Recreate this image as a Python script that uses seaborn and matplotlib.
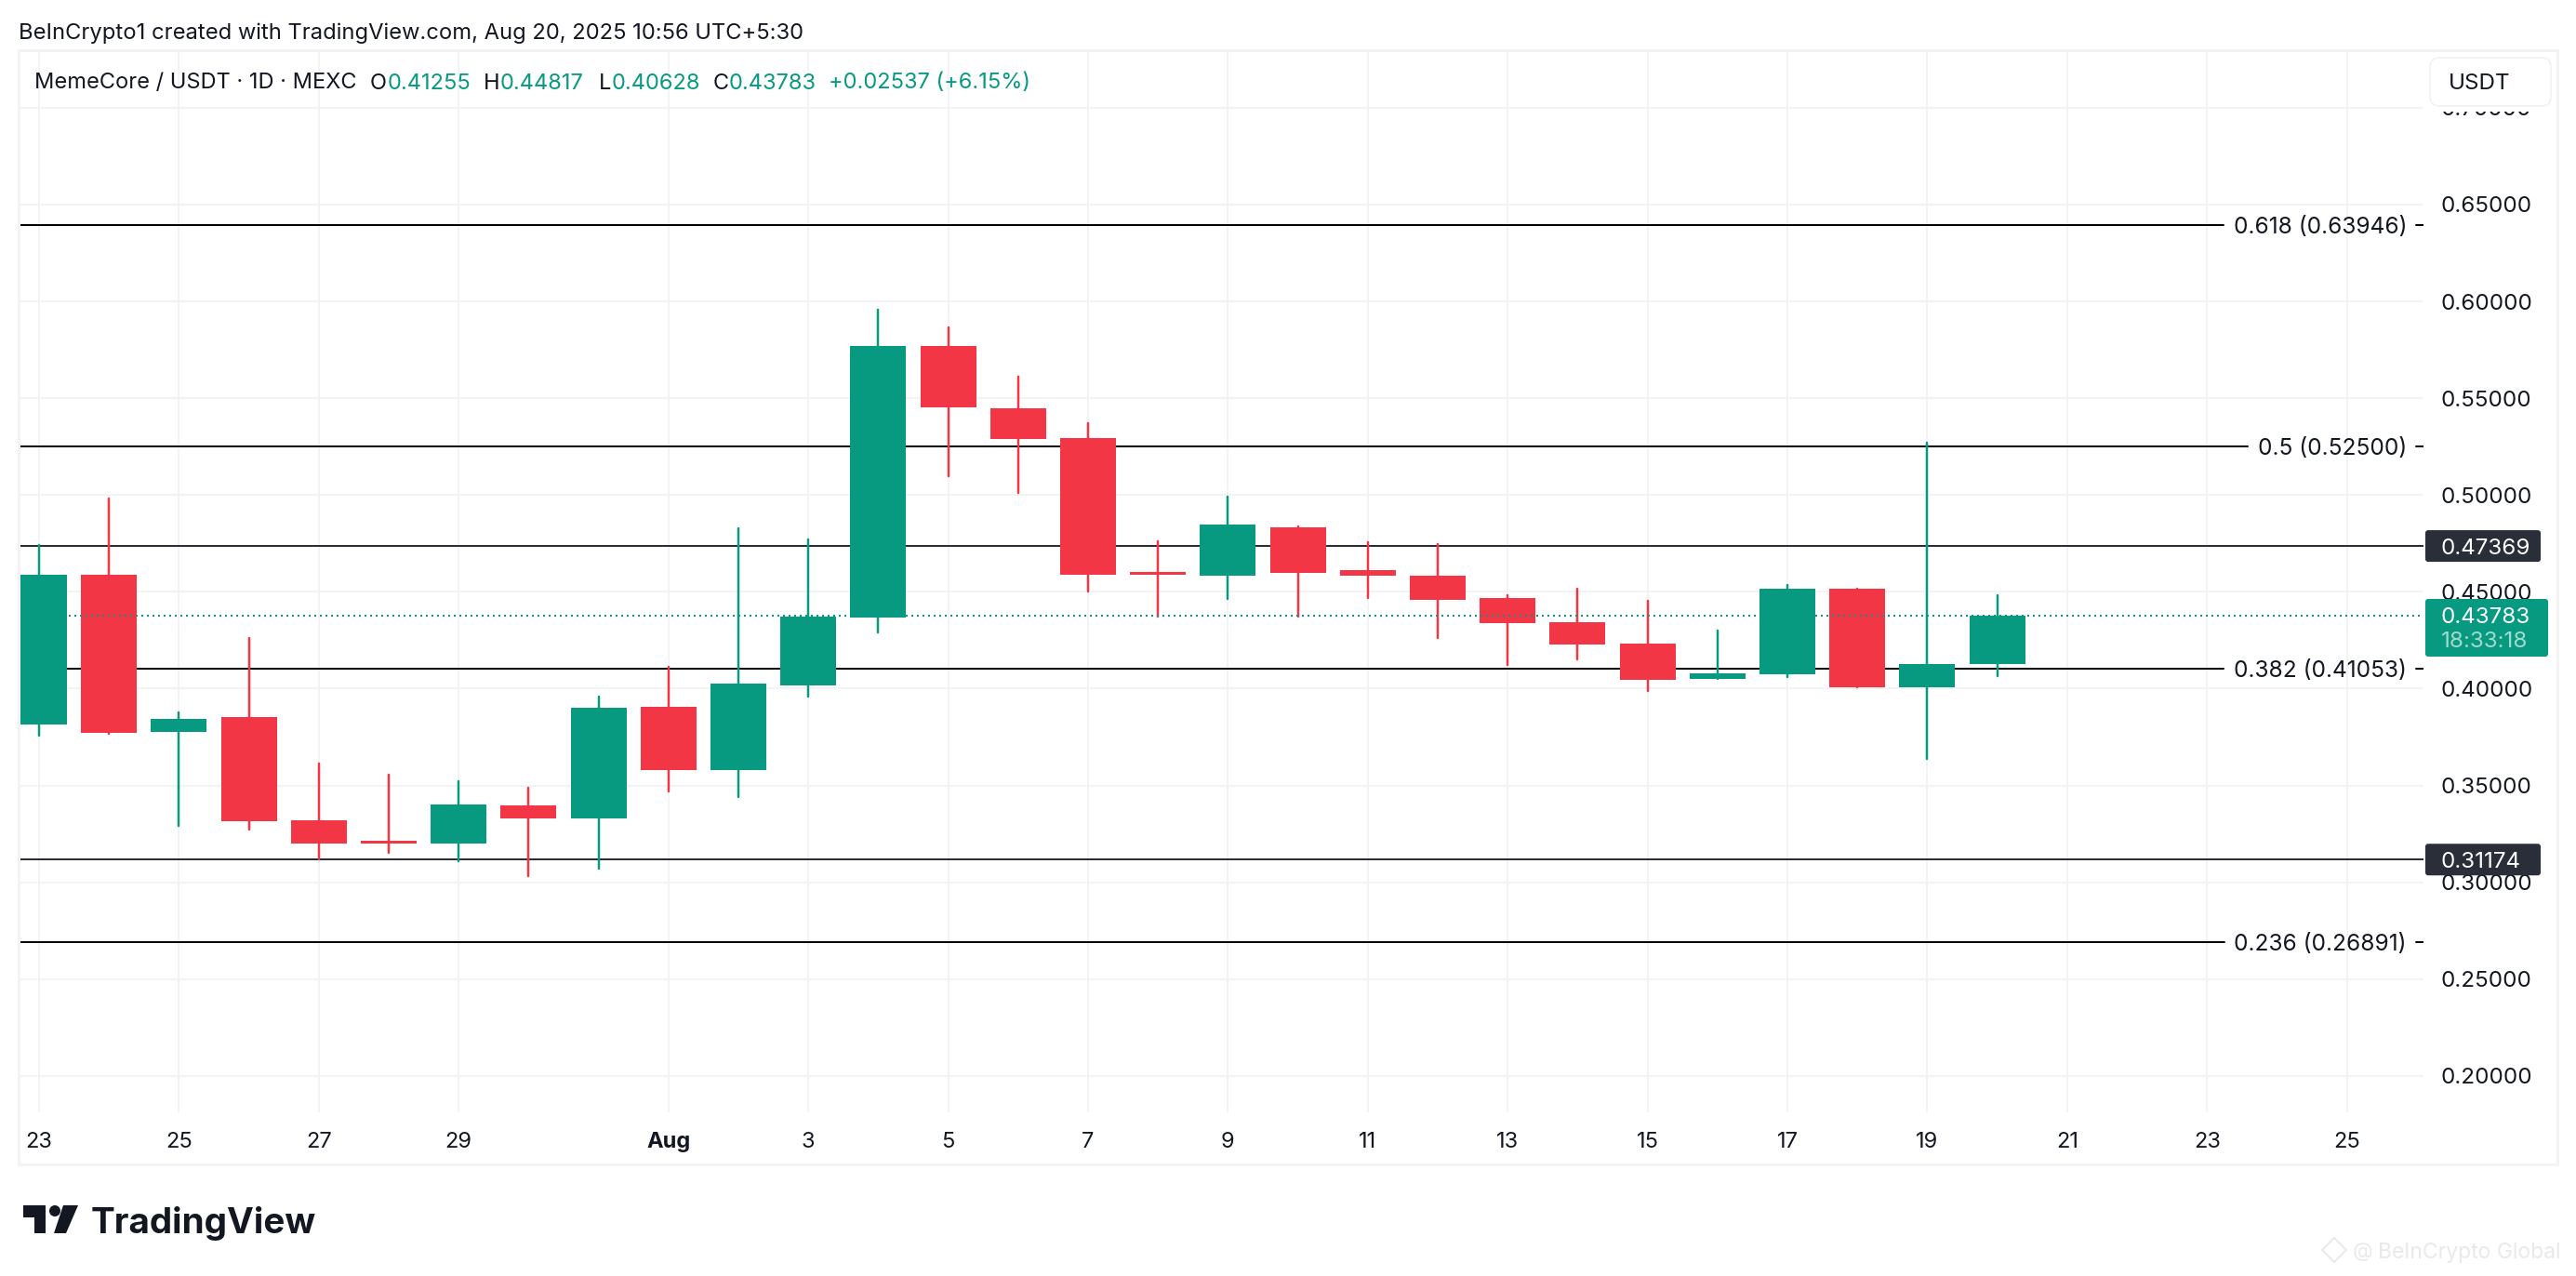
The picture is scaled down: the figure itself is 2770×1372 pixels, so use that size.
import pandas as pd
import seaborn as sns
import matplotlib.pyplot as plt
from matplotlib.patches import Rectangle, FancyBboxPatch, Polygon, Circle

# day index 0 = Jul 23
days = list(range(29))
opens = [.38165, .45884, .37766, .38535, .33204, .32099, .32003, .33972, .33300, .39063,
         .35797, .40168, .43674, .57699, .54481, .52944, .45980, .45836, .48333, .46124,
         .45836, .44683, .43434, .42329, .40504, .40744, .45163, .40072, .41255]
highs = [.47420, .49822, .38775, .42618, .36133, .35557, .35221, .34885, .39592, .41129,
         .48285, .47709, .59572, .58660, .56114, .53713, .47613, .49918, .48381, .47565,
         .47469, .44827, .45163, .44539, .43002, .45355, .45163, .52704, .44817]
lows = [.37574, .37670, .32915, .32723, .31186, .31522, .31090, .30322, .30706, .34692,
        .34404, .39592, .42906, .50975, .50110, .45019, .43722, .44635, .43722, .44683,
        .42618, .41225, .41513, .39880, .40504, .40600, .40072, .36374, .40628]
closes = [.45884, .37718, .38439, .33155, .32003, .32003, .34020, .33300, .39015, .35797,
          .40264, .43722, .57699, .54529, .52896, .45884, .45884, .48477, .45980, .45836,
          .44587, .43386, .42281, .40456, .40792, .45163, .40072, .41273, .43783]

tick_days = [0, 2, 4, 6, 9, 11, 13, 15, 17, 19, 21, 23, 25, 27, 29, 31, 33]
tick_labels = ['23', '25', '27', '29', 'Aug', '3', '5', '7', '9', '11', '13', '15', '17', '19', '21', '23', '25']
price_ticks = [.20, .25, .30, .35, .40, .45, .50, .55, .60, .65, .70]

fib_levels = [.63946, .52500, .41053, .26891]
fib_names = ['0.618 (0.63946)', '0.5 (0.52500)', '0.382 (0.41053)', '0.236 (0.26891)']
sr_levels = [.47369, .31174]
last_price = .43783

GREEN = '#089981'
RED = '#F23645'
DARK = '#2A2E39'
GRID = '#F3F3F4'
TEXT = '#131722'
MARK = '#E9E9E9'

W, H = 2770, 1372
PX = 72 / 100  # points per pixel at dpi 100

sns.set_theme(style='white')
plt.rcParams['font.family'] = ['Inter', 'DejaVu Sans']

fig = plt.figure(figsize=(W / 100, H / 100), dpi=100, facecolor='white')
ax = fig.add_axes([20 / W, 1 - 1196 / H, (2606 - 20) / W, (1196 - 54) / H])


def price_y(p):
    return 220 + (0.65 - p) * 2082


def px_day(x):
    return (x - 42) / 75.2


df = pd.DataFrame({'day': days, 'open': opens, 'high': highs, 'low': lows, 'close': closes})
df['top'] = df[['open', 'close']].max(axis=1)
df['bottom'] = df[['open', 'close']].min(axis=1)
df['body'] = (df['top'] - df['bottom']).clip(lower=0.0012)
df['up'] = df['close'] > df['open']

# wicks
wicks = df.melt(id_vars=['day', 'up'], value_vars=['high', 'low'], value_name='price')
sns.lineplot(data=wicks, x='day', y='price', units='day', estimator=None, hue='up',
             palette={True: GREEN, False: RED}, linewidth=2.5 * PX, legend=False, ax=ax, zorder=4)

# bodies
for is_up, color in [(True, GREEN), (False, RED)]:
    sub = df[df['up'] == is_up]
    sns.barplot(data=sub, x='day', y='body', bottom=sub['bottom'].values, native_scale=True,
                color=color, width=0.8, errorbar=None, saturation=1, linewidth=0, ax=ax, zorder=5)

# levels, broken where the name sits
for level, name in zip(fib_levels, fib_names):
    label = ax.annotate(name, xy=(2588 / W, 1 - price_y(level) / H), xycoords='figure fraction',
                        ha='right', va='center_baseline', fontsize=17.6, color=TEXT, zorder=6)
    fig.canvas.draw()
    left_px = label.get_window_extent().x0
    ax.plot([-1, px_day(left_px - 11)], [level, level], color='black', lw=2 * PX, zorder=3)
    ax.plot([px_day(2598), 40], [level, level], color='black', lw=2 * PX, zorder=3)
for level in sr_levels:
    ax.axhline(level, color=DARK, lw=2 * PX, zorder=3)
ax.axhline(last_price, color=GREEN, lw=2 * PX, ls=(0, (1, 2)), zorder=7)

ax.set_xlim(px_day(20), px_day(2606))
ax.set_ylim(0.65 - (1196 - 220) / 2082, 0.65 + (220 - 54) / 2082)
ax.set_xlabel('')
ax.set_ylabel('')
ax.yaxis.tick_right()
ax.set_yticks(price_ticks, [f'{p:.5f}' for p in price_ticks])
ax.set_xticks(tick_days, tick_labels)
ax.tick_params(axis='y', length=0, pad=18 * PX, labelsize=17.4, labelcolor=TEXT)
ax.tick_params(axis='x', length=0, pad=21 * PX, labelsize=17, labelcolor=TEXT)
for lab in ax.get_yticklabels():
    lab.set_va('center_baseline')
ax.get_xticklabels()[4].set_fontweight('bold')
ax.grid(True, color=GRID, lw=2 * PX)
ax.set_axisbelow(True)
sns.despine(ax=ax, left=True, right=True, top=True, bottom=True)

# overlay in pixels for the TradingView furniture
ov = fig.add_axes([0, 0, 1, 1], facecolor='none')
ov.set_xlim(0, W)
ov.set_ylim(H, 0)
ov.axis('off')

ov.add_patch(Rectangle((20, 54), 2730, 1198, fill=False, ec=GRID, lw=3 * PX))

# USDT button, also hides the top of the 0.70000 tick
ov.add_patch(Rectangle((2608, 56), 138, 64, fc='white', ec='none'))
ov.add_patch(FancyBboxPatch((2621, 70), 114, 36, boxstyle='round,pad=8,rounding_size=10',
                            fc='white', ec='#F0F0F2', lw=1.5 * PX))
ov.text(2633, 87, 'USDT', fontsize=17.4, color=TEXT, va='center_baseline')

# price badges
for level in sr_levels:
    y = price_y(level)
    ov.add_patch(FancyBboxPatch((2610, y - 15), 120, 30, boxstyle='round,pad=2,rounding_size=3',
                                fc=DARK, ec='none'))
    ov.text(2625, y, f'{level:.5f}', fontsize=17.4, color='white', va='center_baseline')
ov.add_patch(FancyBboxPatch((2610, 646), 128, 58, boxstyle='round,pad=2,rounding_size=3',
                            fc=GREEN, ec='none'))
ov.text(2625, price_y(last_price), f'{last_price:.5f}', fontsize=17.4, color='white', va='center_baseline')
ov.text(2625, 688, '18:33:18', fontsize=17.4, color='#A3DACE', va='center_baseline')

# header
ov.text(20, 33, 'BeInCrypto1 created with TradingView.com, Aug 20, 2025 10:56 UTC+5:30',
        fontsize=17.1, color=TEXT, va='center_baseline')
ov.text(37, 87, 'MemeCore / USDT · 1D · MEXC', fontsize=17, color=TEXT, va='center_baseline')
for x, s, c in [(398, 'O', TEXT), (417, '0.41255', GREEN), (520, 'H', TEXT), (538, '0.44817', GREEN),
                (644, 'L', TEXT), (658, '0.40628', GREEN), (767, 'C', TEXT), (784, '0.43783', GREEN),
                (891, '+0.02537 (+6.15%)', GREEN)]:
    ov.text(x, 87, s, fontsize=17, color=c, va='center_baseline')

# logo
ov.add_patch(Polygon([(24.5, 1296), (48.5, 1296), (48.5, 1326), (37, 1326), (37, 1309), (24.5, 1309)],
                     fc=TEXT, ec='none'))
ov.add_patch(Circle((59, 1302), 6, fc=TEXT, ec='none'))
ov.add_patch(Polygon([(68, 1296), (84, 1296), (71, 1326), (58, 1326)], fc=TEXT, ec='none'))
ov.text(98, 1312, 'TradingView', fontsize=27.8, fontweight='bold', color=TEXT, va='center_baseline')

# faint watermark
ov.add_patch(Polygon([(2510, 1331), (2523, 1344), (2510, 1357), (2497, 1344)], fc='none', ec=MARK, lw=2 * PX))
ov.text(2530, 1344, '@', fontsize=16, color=MARK, va='center_baseline')
ov.text(2557, 1344, 'BeInCrypto Global', fontsize=16.5, color=MARK, va='center_baseline')

fig.savefig('out.png', dpi=100)
